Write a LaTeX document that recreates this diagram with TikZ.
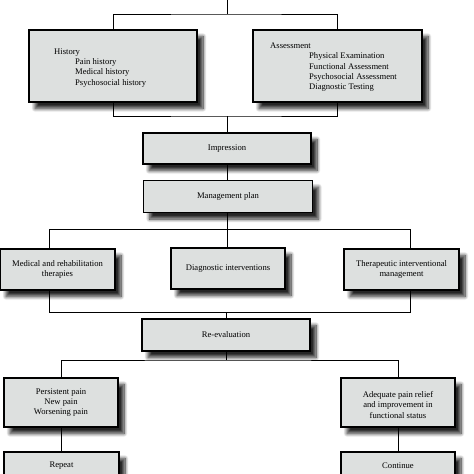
\documentclass[tikz,border=0pt]{standalone}
\usepackage{fontspec}
\setmainfont{Liberation Serif}
\usetikzlibrary{shadows.blur,calc}
\definecolor{boxfill}{HTML}{DDE0DF}
\begin{document}
\begin{tikzpicture}[x=1pt,y=-1pt,
  font=\fontsize{8.6}{10.3}\selectfont,
  box/.style={draw=black, line width=1.2pt, fill=boxfill, inner sep=0pt, align=center,
    blur shadow={shadow xshift=6pt, shadow yshift=-6.5pt, shadow blur radius=3.5pt, shadow opacity=85, shadow blur steps=10}},
  conn/.style={line width=1pt, black},
  lbl/.style={anchor=west, inner sep=0pt}]
\useasboundingbox (0,0) rectangle (474,474);
\clip (0,0) rectangle (474,474);
% boxes
\node[box, minimum width=168pt, minimum height=72pt] (hist) at (113,66) {};
\node[box, minimum width=169pt, minimum height=72pt] (assess) at (337.5,66) {};
\node[box, minimum width=168pt, minimum height=31pt] (imp) at (227,148.5) {Impression};
\node[box, minimum width=169pt, minimum height=32pt] (mgmt) at (228,196.5) {Management plan};
\node[box, minimum width=115pt, minimum height=41pt] (med) at (57.5,269.5) {Medical and rehabilitation\\therapies};
\node[box, minimum width=114pt, minimum height=41pt] (diag) at (228,268.5) {Diagnostic interventions};
\node[box, minimum width=115pt, minimum height=41pt] (ther) at (401.5,269.5) {Therapeutic interventional\\management};
\node[box, minimum width=168pt, minimum height=32pt] (reev) at (226,335) {Re-evaluation};
\node[box, minimum width=114pt, minimum height=49pt] (pers) at (61,402.5) {Persistent pain\\New pain\\Worsening pain};
\node[box, minimum width=114pt, minimum height=49pt] (adeq) at (398,402.5) {};
\node[inner sep=0pt, align=center] (adeqt) at (398,405) {Adequate pain relief\\and improvement in\\functional status};
\node[box, minimum width=115pt, minimum height=50pt] (rep) at (61.5,477) {};
\node[box, minimum width=114pt, minimum height=50pt] (cont) at (398,477) {};
\node[inner sep=0pt] (rept) at (61.5,466) {Repeat};
\node[inner sep=0pt] (contt) at (398,466) {Continue};
% list texts
\node[lbl] (h0) at (54,52.5) {History};
\node[lbl] (h1) at (75,62.5) {Pain history};
\node[lbl] (h2) at (75,72.5) {Medical history};
\node[lbl] (h3) at (75,83) {Psychosocial history};
\node[lbl] (a0) at (270,45.5) {Assessment};
\node[lbl] (a1) at (309,56) {Physical Examination};
\node[lbl] (a2) at (309,66.5) {Functional Assessment};
\node[lbl] (a3) at (309,77) {Psychosocial Assessment};
\node[lbl] (a4) at (309,87.5) {Diagnostic Testing};
% connectors
\coordinate (top) at (227,0);
\coordinate (j1) at (227,14);
\coordinate (j2) at (227,116);
\coordinate (j3) at (227,229);
\coordinate (cl) at (49,229);
\coordinate (cr) at (410,229);
\coordinate (dl) at (49,312);
\coordinate (dr) at (410,312);
\coordinate (dm) at (226,312);
\coordinate (j4) at (226,360);
\draw[conn] (top) -- (j1);
\draw[conn] (hist.north) |- (j1) -| (assess.north);
\draw[conn] (hist.south) |- (j2) -| (assess.south);
\draw[conn] (j2) -- (imp.north);
\draw[conn] (imp.south) -- (imp.south |- mgmt.north);
\draw[conn] (mgmt.south -| j3) -- (j3);
\draw[conn] (cl |- med.north) -- (cl) -- (cr) -- (cr |- ther.north);
\draw[conn] (j3) -- (diag.north -| j3);
\draw[conn] (cl |- med.south) -- (dl) -- (dr) -- (dr |- ther.south);
\draw[conn] (dm) -- (reev.north);
\draw[conn] (reev.south) -- (j4);
\draw[conn] (pers.north) |- (j4) -| (adeq.north);
\draw[conn] (pers.south) -- (rep.north -| pers.south);
\draw[conn] (adeq.south) -- (cont.north -| adeq.south);
\end{tikzpicture}
\end{document}
